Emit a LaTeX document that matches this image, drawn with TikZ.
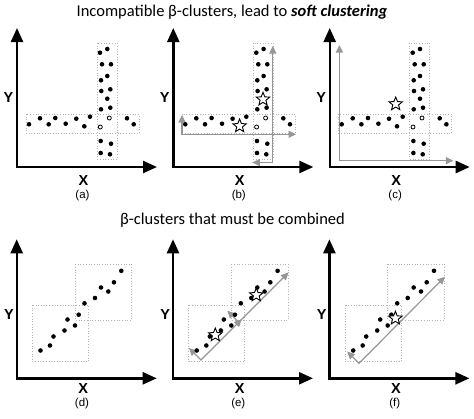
\documentclass[tikz,border=0pt]{standalone}
\usepackage{fontspec}
\setmainfont{Carlito}
\newfontfamily\labelfont{Liberation Sans}
\usetikzlibrary{arrows.meta,shapes.geometric}
\definecolor{boxgray}{RGB}{180,180,180}
\definecolor{arrgray}{RGB}{150,150,150}
\tikzset{
  axisline/.style={line width=2.4pt,{Triangle[length=14pt,width=12pt]}-{Triangle[length=14pt,width=12pt]}},
  boxline/.style={draw=boxgray,dotted,line width=0.7pt},
  garrows/.style={draw=arrgray,line width=1.2pt,{Triangle[length=7.5pt,width=7pt]}-{Triangle[length=7.5pt,width=7pt]}},
  starmark/.style={star,star points=5,star point ratio=2.3,draw,fill=white,line width=0.9pt,minimum size=14pt,inner sep=0pt},
  axlab/.style={font=\labelfont\fontsize{14.5}{14.5}\selectfont\bfseries,inner sep=0pt},
  panlab/.style={font=\labelfont\fontsize{11.5}{11.5}\selectfont,inner sep=0pt},
  titletext/.style={font=\fontsize{16.5}{16.5}\selectfont,anchor=base}
}
\newcommand{\topdots}{%
  \foreach \p in {(29,124.3),(40,118.3),(48.7,124.3),(55.3,118),(65.7,123.7),(76.3,118.7),(84.3,126.3),(90,116.7),
    (100,52.7),(107.3,49),(102,64.3),(111,64.3),(101,80.3),(107.3,76),(101.3,91),(110.3,89.3),(107.3,98.7),
    (101,109.3),(110.3,107.7),(127,118.3),(133.7,124.3),(100.7,141),(111,143.7),(100.7,153),(110,154.3)}
    {\fill \p circle[radius=2.3pt];}
  \draw[fill=white,line width=0.8pt] (109.3,118) circle[radius=2pt];
  \draw[fill=white,line width=0.8pt] (100.3,127) circle[radius=2pt];
}
\newcommand{\topframe}[1]{%
  \draw[boxline] (97,43) rectangle (117,159);
  \draw[boxline] (26,114) rectangle (139,133);
  \draw[axisline] (17,28) -- (17,167) -- (157,167);
  \node[axlab] at (8.5,98) {Y};
  \node[axlab] at (83.5,181) {X};
  \node[panlab] at (82.5,195.5) {(#1)};
}
\newcommand{\botdots}{%
  \foreach \p in {(40.5,350.5),(50,345.5),(53.5,336.5),(64.5,330.5),(67.5,319.5),(75,325.5),(78.7,314.7),(84.5,303.3),
    (95,298),(101,287.5),(108.3,291.5),(114,282.3),(121.3,270.8)}
    {\fill \p circle[radius=2.3pt];}
}
\newcommand{\botframe}[1]{%
  \draw[boxline] (32.3,305) rectangle (88.3,361.7);
  \draw[boxline] (75,264.3) rectangle (131.7,320);
  \draw[axisline] (16.7,239.3) -- (16.7,378.3) -- (156.7,378.3);
  \node[axlab] at (9,315) {Y};
  \node[axlab] at (83.3,389) {X};
  \node[panlab] at (82,403.5) {(#1)};
}
\begin{document}
\begin{tikzpicture}[x=1pt,y=-1pt]
  \useasboundingbox (0,0) rectangle (474,418);
  \node[titletext] (title) at (232,16.7) {Incompatible β-clusters, lead to \textbf{\textit{soft clustering}}};
  \node[titletext] (subtitle) at (232.5,224) {β-clusters that must be combined};
  % (a)
  \begin{scope}
    \topframe{a}
    \topdots
  \end{scope}
  % (b)
  \begin{scope}[xshift=156.3pt]
    \topframe{b}
    \coordinate (bv0) at (116.5,162.5);
    \coordinate (bv1) at (116.5,46);
    \coordinate (bv2) at (96,162.5);
    \draw[garrows] (bv1) -- (bv0) -- (bv2);
    \coordinate (bh0) at (25.7,134.3);
    \coordinate (bh1) at (25.7,115);
    \coordinate (bh2) at (139.7,134.3);
    \draw[garrows] (bh1) -- (bh0) -- (bh2);
    \topdots
    \node[starmark] (sb1) at (83.3,126) {};
    \node[starmark] (sb2) at (106.7,99.3) {};
  \end{scope}
  % (c)
  \begin{scope}[xshift=312.7pt]
    \topframe{c}
    \coordinate (c0) at (26.7,160.7);
    \coordinate (c1) at (26.7,45);
    \coordinate (c2) at (140.7,160.7);
    \draw[garrows] (c1) -- (c0) -- (c2);
    \topdots
    \node[starmark] (sc1) at (83,104) {};
  \end{scope}
  % (d)
  \begin{scope}
    \botframe{d}
    \botdots
  \end{scope}
  % (e)
  \begin{scope}[xshift=156.3pt]
    \botframe{e}
    \coordinate (e0) at (44.7,360);
    \coordinate (e1) at (32.7,348);
    \coordinate (em) at (85.5,319.2);
    \coordinate (e2) at (82.5,322.2);
    \coordinate (e3) at (71,310.7);
    \coordinate (e4) at (132.3,272.5);
    \draw[garrows] (e1) -- (e0) -- (em);
    \draw[garrows] (e3) -- (e2) -- (e4);
    \botdots
    \node[starmark] (se1) at (59,335) {};
    \node[starmark] (se2) at (100,295) {};
  \end{scope}
  % (f)
  \begin{scope}[xshift=312.7pt]
    \botframe{f}
    \coordinate (f0) at (46.3,363.3);
    \coordinate (f1) at (34.5,351.5);
    \coordinate (f2) at (132.3,276.7);
    \draw[garrows] (f1) -- (f0) -- (f2);
    \botdots
    \node[starmark] (sf1) at (82.7,318.3) {};
  \end{scope}
\end{tikzpicture}
\end{document}
